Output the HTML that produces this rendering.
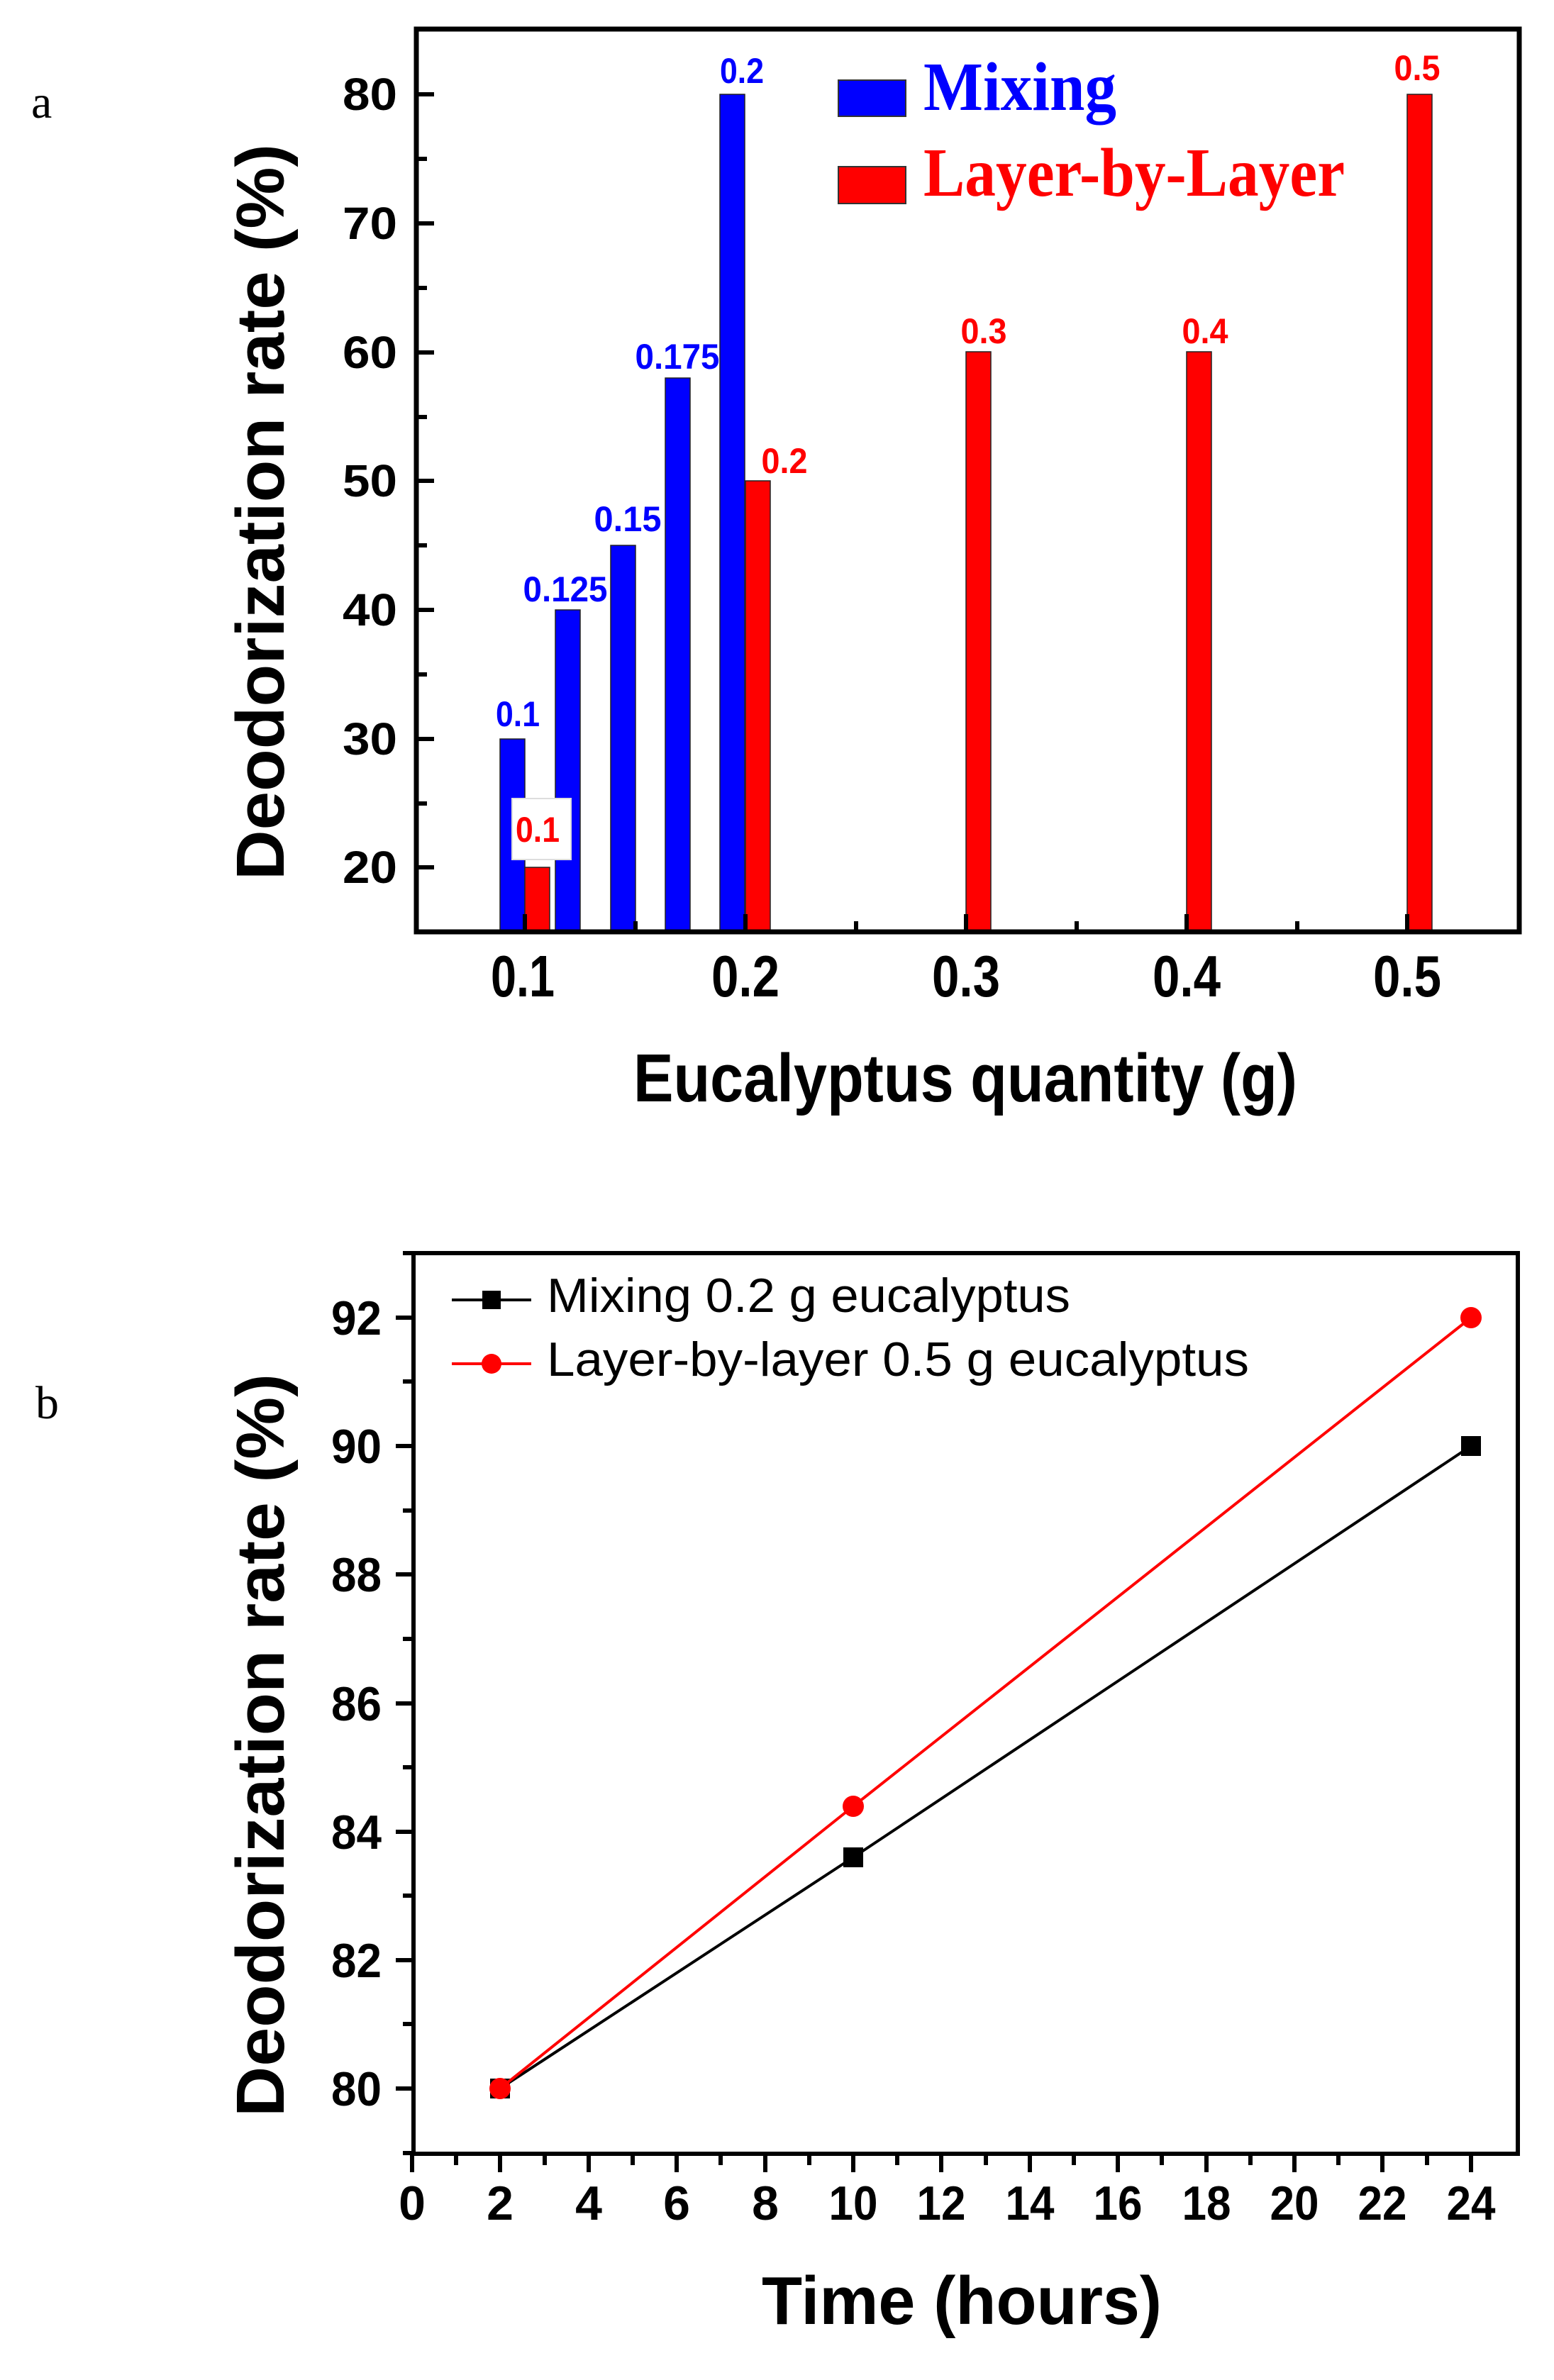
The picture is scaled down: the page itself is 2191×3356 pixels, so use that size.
<!DOCTYPE html>
<html><head><meta charset="utf-8"><style>html,body{margin:0;padding:0;background:#fff}svg{display:block}</style></head>
<body>
<svg width="2191" height="3356" viewBox="0 0 2191 3356" xmlns="http://www.w3.org/2000/svg" font-family="Liberation Sans, Arial, sans-serif">
<rect width="2191" height="3356" fill="#fff"/>
<text x="44" y="166" font-family="Liberation Serif, serif" font-size="66">a</text>
<text x="50" y="2000" font-family="Liberation Serif, serif" font-size="66">b</text>

<g>
<g fill="#0000ff" stroke="#222" stroke-width="1.5">
<rect x="705" y="1042" width="35" height="272"/>
<rect x="783" y="860" width="35" height="454"/>
<rect x="861" y="769" width="35" height="545"/>
<rect x="938" y="533" width="35" height="781"/>
<rect x="1015" y="133" width="35" height="1181"/>
</g>
<g fill="#ff0000" stroke="#222" stroke-width="1.5">
<rect x="740" y="1223" width="35" height="91"/>
<rect x="1051" y="678" width="35" height="636"/>
<rect x="1362" y="496" width="35" height="818"/>
<rect x="1673" y="496" width="35" height="818"/>
<rect x="1984" y="133" width="35" height="1181"/>
</g>
<g font-weight="bold" font-size="50" text-anchor="middle" fill="#0000ff">
<text x="1046" y="117" textLength="62" lengthAdjust="spacingAndGlyphs">0.2</text>
<text x="955" y="520" textLength="119" lengthAdjust="spacingAndGlyphs">0.175</text>
<text x="885" y="749" textLength="95" lengthAdjust="spacingAndGlyphs">0.15</text>
<text x="797" y="848" textLength="119" lengthAdjust="spacingAndGlyphs">0.125</text>
<text x="730" y="1024" textLength="62" lengthAdjust="spacingAndGlyphs">0.1</text>
</g>
<rect x="722" y="1126" width="83" height="86" fill="#fff" stroke="#ddd" stroke-width="2"/>
<g font-weight="bold" font-size="50" text-anchor="middle" fill="#ff0000">
<text x="758" y="1187" textLength="62" lengthAdjust="spacingAndGlyphs">0.1</text>
<text x="1106" y="667" textLength="65" lengthAdjust="spacingAndGlyphs">0.2</text>
<text x="1387" y="484" textLength="65" lengthAdjust="spacingAndGlyphs">0.3</text>
<text x="1699" y="484" textLength="65" lengthAdjust="spacingAndGlyphs">0.4</text>
<text x="1998" y="113" textLength="65" lengthAdjust="spacingAndGlyphs">0.5</text>
</g>
<rect x="587" y="41" width="1555" height="1273" fill="none" stroke="#000" stroke-width="7"/>
<g stroke="#000" stroke-width="6">
<line x1="587" y1="133" x2="612" y2="133"/><line x1="587" y1="315" x2="612" y2="315"/>
<line x1="587" y1="497" x2="612" y2="497"/><line x1="587" y1="678" x2="612" y2="678"/>
<line x1="587" y1="860" x2="612" y2="860"/><line x1="587" y1="1042" x2="612" y2="1042"/>
<line x1="587" y1="1223" x2="612" y2="1223"/>
<line x1="587" y1="224" x2="602" y2="224"/><line x1="587" y1="406" x2="602" y2="406"/>
<line x1="587" y1="588" x2="602" y2="588"/><line x1="587" y1="769" x2="602" y2="769"/>
<line x1="587" y1="951" x2="602" y2="951"/><line x1="587" y1="1133" x2="602" y2="1133"/>
<line x1="740" y1="1314" x2="740" y2="1289"/><line x1="1051" y1="1314" x2="1051" y2="1289"/>
<line x1="1362" y1="1314" x2="1362" y2="1289"/><line x1="1673" y1="1314" x2="1673" y2="1289"/>
<line x1="1984" y1="1314" x2="1984" y2="1289"/>
<line x1="896" y1="1314" x2="896" y2="1299"/><line x1="1207" y1="1314" x2="1207" y2="1299"/>
<line x1="1518" y1="1314" x2="1518" y2="1299"/><line x1="1829" y1="1314" x2="1829" y2="1299"/>
</g>
<g font-weight="bold" font-size="64" text-anchor="end">
<text x="560" y="155" textLength="77" lengthAdjust="spacingAndGlyphs">80</text>
<text x="560" y="337" textLength="77" lengthAdjust="spacingAndGlyphs">70</text>
<text x="560" y="519" textLength="77" lengthAdjust="spacingAndGlyphs">60</text>
<text x="560" y="700" textLength="77" lengthAdjust="spacingAndGlyphs">50</text>
<text x="560" y="882" textLength="77" lengthAdjust="spacingAndGlyphs">40</text>
<text x="560" y="1064" textLength="77" lengthAdjust="spacingAndGlyphs">30</text>
<text x="560" y="1245" textLength="77" lengthAdjust="spacingAndGlyphs">20</text>
</g>
<g font-weight="bold" font-size="83" text-anchor="middle">
<text x="737" y="1405" textLength="90" lengthAdjust="spacingAndGlyphs">0.1</text>
<text x="1051" y="1405" textLength="96" lengthAdjust="spacingAndGlyphs">0.2</text>
<text x="1362" y="1405" textLength="96" lengthAdjust="spacingAndGlyphs">0.3</text>
<text x="1673" y="1405" textLength="96" lengthAdjust="spacingAndGlyphs">0.4</text>
<text x="1984" y="1405" textLength="96" lengthAdjust="spacingAndGlyphs">0.5</text>
</g>
<text x="893" y="1553" font-weight="bold" font-size="96" textLength="936" lengthAdjust="spacingAndGlyphs">Eucalyptus quantity (g)</text>
<text transform="translate(400,722) rotate(-90)" text-anchor="middle" font-weight="bold" font-size="96" textLength="1038" lengthAdjust="spacingAndGlyphs">Deodorization rate (%)</text>
<rect x="1182" y="113" width="95" height="51" fill="#0000ff" stroke="#333" stroke-width="2"/>
<rect x="1182" y="235" width="95" height="52" fill="#ff0000" stroke="#333" stroke-width="2"/>
<text x="1302" y="155" font-family="Liberation Serif, serif" font-weight="bold" font-size="98" fill="#0000ff" textLength="272" lengthAdjust="spacingAndGlyphs">Mixing</text>
<text x="1302" y="276" font-family="Liberation Serif, serif" font-weight="bold" font-size="98" fill="#ff0000" textLength="594" lengthAdjust="spacingAndGlyphs">Layer-by-Layer</text>
</g>

<g>
<rect x="583" y="1767" width="1557" height="1270" fill="none" stroke="#000" stroke-width="6"/>
<g stroke="#000" stroke-width="6">
<line x1="558" y1="1858" x2="583" y2="1858"/><line x1="558" y1="2039" x2="583" y2="2039"/>
<line x1="558" y1="2220" x2="583" y2="2220"/><line x1="558" y1="2402" x2="583" y2="2402"/>
<line x1="558" y1="2583" x2="583" y2="2583"/><line x1="558" y1="2764" x2="583" y2="2764"/>
<line x1="558" y1="2945" x2="583" y2="2945"/>
<line x1="568" y1="1767" x2="583" y2="1767"/><line x1="568" y1="1948" x2="583" y2="1948"/>
<line x1="568" y1="2130" x2="583" y2="2130"/><line x1="568" y1="2311" x2="583" y2="2311"/>
<line x1="568" y1="2492" x2="583" y2="2492"/><line x1="568" y1="2673" x2="583" y2="2673"/>
<line x1="568" y1="2854" x2="583" y2="2854"/><line x1="568" y1="3036" x2="583" y2="3036"/>
</g>
<path stroke="#000" stroke-width="6" d="M581 3037v26M705 3037v26M830 3037v26M954 3037v26M1079 3037v26M1203 3037v26M1327 3037v26M1452 3037v26M1576 3037v26M1701 3037v26M1825 3037v26M1949 3037v26M2074 3037v26M643 3037v16M768 3037v16M892 3037v16M1016 3037v16M1141 3037v16M1265 3037v16M1390 3037v16M1514 3037v16M1638 3037v16M1763 3037v16M1887 3037v16M2012 3037v16"/>
<g font-weight="bold" font-size="68" text-anchor="end">
<text x="538" y="1882" textLength="71" lengthAdjust="spacingAndGlyphs">92</text>
<text x="538" y="2063" textLength="71" lengthAdjust="spacingAndGlyphs">90</text>
<text x="538" y="2244" textLength="71" lengthAdjust="spacingAndGlyphs">88</text>
<text x="538" y="2426" textLength="71" lengthAdjust="spacingAndGlyphs">86</text>
<text x="538" y="2607" textLength="71" lengthAdjust="spacingAndGlyphs">84</text>
<text x="538" y="2788" textLength="71" lengthAdjust="spacingAndGlyphs">82</text>
<text x="538" y="2969" textLength="71" lengthAdjust="spacingAndGlyphs">80</text>
</g>
<g font-weight="bold" font-size="68" text-anchor="middle">
<text x="581" y="3130">0</text><text x="705" y="3130">2</text><text x="830" y="3130">4</text>
<text x="954" y="3130">6</text><text x="1079" y="3130">8</text>
<text x="1203" y="3130" textLength="69" lengthAdjust="spacingAndGlyphs">10</text>
<text x="1327" y="3130" textLength="69" lengthAdjust="spacingAndGlyphs">12</text>
<text x="1452" y="3130" textLength="69" lengthAdjust="spacingAndGlyphs">14</text>
<text x="1576" y="3130" textLength="69" lengthAdjust="spacingAndGlyphs">16</text>
<text x="1701" y="3130" textLength="69" lengthAdjust="spacingAndGlyphs">18</text>
<text x="1825" y="3130" textLength="69" lengthAdjust="spacingAndGlyphs">20</text>
<text x="1949" y="3130" textLength="69" lengthAdjust="spacingAndGlyphs">22</text>
<text x="2074" y="3130" textLength="69" lengthAdjust="spacingAndGlyphs">24</text>
</g>
<text x="1074" y="3277" font-weight="bold" font-size="96" textLength="564" lengthAdjust="spacingAndGlyphs">Time (hours)</text>
<text transform="translate(400,2461) rotate(-90)" text-anchor="middle" font-weight="bold" font-size="96" textLength="1048" lengthAdjust="spacingAndGlyphs">Deodorization rate (%)</text>
<polyline points="705,2945 1203,2619 2074,2039" fill="none" stroke="#000" stroke-width="4"/>
<rect x="691" y="2931" width="28" height="28" fill="#000"/>
<rect x="1189" y="2605" width="28" height="28" fill="#000"/>
<rect x="2060" y="2025" width="28" height="28" fill="#000"/>
<polyline points="705,2945 1203,2547 2074,1858" fill="none" stroke="#ff0000" stroke-width="4"/>
<circle cx="705" cy="2945" r="15" fill="#ff0000"/>
<circle cx="1203" cy="2547" r="15" fill="#ff0000"/>
<circle cx="2074" cy="1858" r="15" fill="#ff0000"/>
<line x1="637" y1="1833" x2="749" y2="1833" stroke="#000" stroke-width="4"/>
<rect x="680" y="1820" width="26" height="26" fill="#000"/>
<line x1="637" y1="1923" x2="749" y2="1923" stroke="#ff0000" stroke-width="4"/>
<circle cx="693" cy="1923" r="14" fill="#ff0000"/>
<text x="771" y="1850" font-size="68" textLength="738" lengthAdjust="spacingAndGlyphs">Mixing 0.2 g eucalyptus</text>
<text x="771" y="1940" font-size="68" textLength="990" lengthAdjust="spacingAndGlyphs">Layer-by-layer 0.5 g eucalyptus</text>
</g>
</svg>
</body></html>
